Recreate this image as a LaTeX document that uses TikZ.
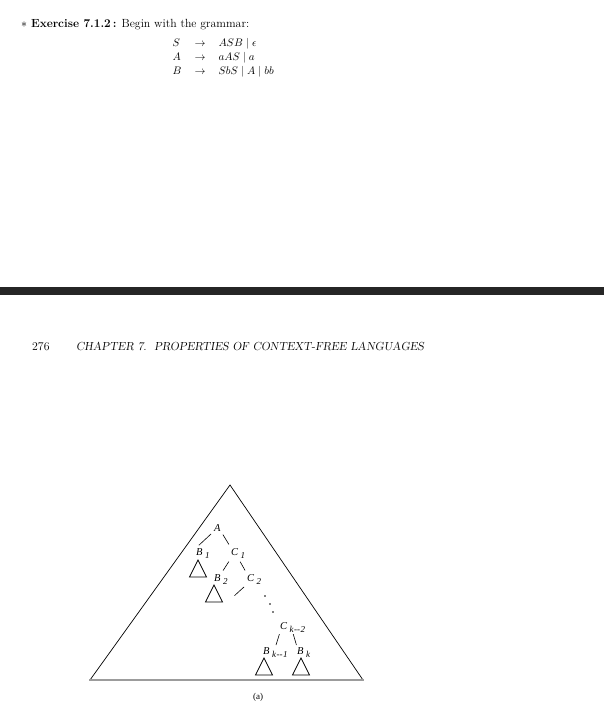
\documentclass[tikz,border=0pt]{standalone}
\usepackage{fontspec}
\usepackage{xcolor}
\usepackage{tikz}
\usetikzlibrary{positioning}
\newfontfamily\figfont{Liberation Serif}
\definecolor{barcolor}{HTML}{262626}
\definecolor{basecolor}{HTML}{9C9C9C}
\newcommand{\labsub}[2]{#1\kern2.5pt\raisebox{-3pt}{\fontsize{9}{9}\selectfont #2}}
\tikzset{
	pagetext/.style={inner sep=0pt, anchor=base west, font=\fontsize{11.8}{14}\selectfont},
	lab/.style={inner sep=0pt, anchor=base west, font=\figfont\itshape\fontsize{10.5}{10.5}\selectfont},
	branch/.style={line width=0.6pt, shorten >=4pt, shorten <=4pt},
	subtree/.style={line width=0.8pt},
}

\begin{document}
\begin{tikzpicture}[x=1pt, y=-1pt]
\useasboundingbox (0,0) rectangle (604,715);

% exercise text
\node (exercise) 
	[pagetext] at (21,27)
	{$*$ \textbf{Exercise 7.1.2\,:} Begin with the grammar:};
\node (grammar) 
	[pagetext, anchor=west, inner sep=0pt, font=\fontsize{11.3}{14}\selectfont] at (166,58)
	{\setlength{\arraycolsep}{6.5pt}$\begin{array}{lcl}
	S & \rightarrow & ASB \mid \epsilon \\
	A & \rightarrow & aAS \mid a \\
	B & \rightarrow & SbS \mid A \mid bb
	\end{array}$};

% page break
\fill[barcolor] (0,287) rectangle (604,295);
\node (pagenum) 
	[pagetext] at (32,350)
	{276};
\node (chapter) 
	[pagetext, font=\fontsize{11.7}{14}\selectfont\slshape] at (76,350)
	{CHAPTER 7.\ \ PROPERTIES OF CONTEXT-FREE LANGUAGES};

% figure (a)
\draw[line width=0.7pt] (90,680) -- (230,485) -- (363,680);
\draw[basecolor, line width=1.6pt] (89,680) -- (364,680);

\node (A) [lab] at (214,531) {A};
\node (B1) [lab] at (196,555) {\labsub{B}{1}};
\node (C1) [lab] at (231,555) {\labsub{C}{1}};
\node (B2) [lab] at (214,581) {\labsub{B}{2}};
\node (C2) [lab] at (247,581) {\labsub{C}{2}};
\coordinate (b3) at (233,597);
\node (Ck2) [lab] at (280,629) {\labsub{C}{k\kern.5pt--\kern.5pt2}};
\node (Bk1) [lab] at (263,654) {\labsub{B}{k\kern.5pt--\kern.5pt1}};
\node (Bk) [lab] at (297,654) {\labsub{B}{k}};

\draw[branch] (A.south west) -- (B1.north west);
\draw[branch] (A.south east) -- (C1.north west);
\draw[branch] (C1.south west) -- (B2.north);
\draw[branch] (C1.south) -- (C2.north west);
\draw[branch, shorten >=2pt] (C2.south west) -- (b3);
\draw[branch, shorten <=2pt, shorten >=2pt] (Ck2.south west) -- (Bk1.north);
\draw[branch, shorten <=2pt, shorten >=2pt] (Ck2.south) -- (Bk.north west);

\foreach \x/\y in {198/560, 214/585, 264/658, 301/658}
	\draw[subtree] (\x,\y) -- ++(-8.5,17) -- ++(17,0) -- cycle;
\foreach \x/\y in {265/596, 270/604, 273/612}
	\fill (\x,\y) circle (0.8);

\node (caption) 
	[font=\figfont\fontsize{9}{9}\selectfont] at (258,697)
	{(a)};
\end{tikzpicture}
\end{document}
